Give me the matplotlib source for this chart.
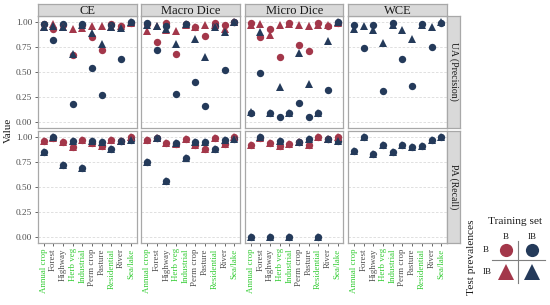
import numpy as np
import matplotlib
matplotlib.use("Agg")
import matplotlib.pyplot as plt

plt.rcParams['font.family'] = ['Liberation Serif', 'DejaVu Serif']

categories = ["Annual crop", "Forest", "Highway", "Herb veg", "Industrial",
              "Perm crop", "Pasture", "Residential", "River", "Sea/lake"]
green_cats = ["Annual crop", "Herb veg", "Industrial", "Residential", "Sea/lake"]
losses = ["CE", "Macro Dice", "Micro Dice", "WCE"]
metrics = ["UA (Precision)", "PA (Recall)"]
nan = np.nan

# UA (Precision): keys = (train set, test prevalence)
ua_ce_BB = [0.98, 0.93, 0.97, 0.67, 0.97, 0.85, 0.72, 0.98, 0.96, 0.99]
ua_ce_IBB = [0.98, 0.82, 0.98, 0.18, 0.98, 0.54, 0.27, 0.97, 0.63, 1.00]
ua_ce_BIB = [0.95, 0.98, 0.95, 0.93, 0.94, 0.96, 0.96, 0.95, 0.96, 0.99]
ua_ce_IBIB = [0.95, 0.96, 0.95, 0.68, 0.97, 0.89, 0.78, 0.95, 0.94, 1.00]

ua_mac_BB = [0.98, 0.80, 0.99, 0.68, 0.98, 0.95, 0.86, 0.99, 0.97, 1.00]
ua_mac_IBB = [0.99, 0.72, 0.96, 0.28, 0.98, 0.40, 0.16, 0.96, 0.52, 1.00]
ua_mac_BIB = [0.91, 0.96, 0.92, 0.91, 0.97, 0.95, 0.97, 0.97, 0.93, 1.00]
ua_mac_IBIB = [0.97, 0.96, 0.93, 0.78, 0.98, 0.83, 0.65, 0.95, 0.90, 1.00]

ua_mic_BB = [0.99, 0.85, 0.93, 0.65, 0.99, 0.77, 0.71, 0.99, 0.96, 0.99]
ua_mic_IBB = [0.09, 0.49, 0.09, 0.05, 0.09, 0.19, 0.05, 0.09, 0.32, 1.00]
ua_mic_BIB = [0.97, 0.98, 0.87, 0.97, 0.98, 0.97, 0.96, 0.97, 0.97, 0.99]
ua_mic_IBIB = [0.10, 0.90, 0.09, 0.35, 0.09, 0.69, 0.38, 0.09, 0.81, 1.00]

ua_wce_BB = [nan] * 10
ua_wce_IBB = [0.97, 0.74, 0.97, 0.31, 0.99, 0.63, 0.36, 0.98, 0.75, 0.99]
ua_wce_BIB = [nan] * 10
ua_wce_IBIB = [0.93, 0.96, 0.92, 0.79, 0.97, 0.92, 0.83, 0.97, 0.95, 1.00]

# PA (Recall): same for both test prevalences
pa_ce_B = [0.96, 0.99, 0.95, 0.90, 0.97, 0.94, 0.91, 0.97, 0.96, 1.00]
pa_ce_IB = [0.85, 1.00, 0.72, 0.96, 0.69, 0.96, 0.95, 0.88, 0.96, 0.97]
pa_mac_B = [0.97, 0.99, 0.94, 0.93, 0.98, 0.92, 0.88, 0.99, 0.93, 1.00]
pa_mac_IB = [0.75, 0.99, 0.56, 0.94, 0.79, 0.95, 0.95, 0.88, 0.97, 0.98]
pa_mic_B = [0.92, 0.99, 0.94, 0.91, 0.93, 0.95, 0.92, 1.00, 0.98, 1.00]
pa_mic_IB = [0.00, 1.00, 0.00, 0.96, 0.00, 0.95, 0.98, 0.00, 0.98, 0.96]
pa_wce_B = [nan] * 10
pa_wce_IB = [0.86, 1.00, 0.83, 0.92, 0.85, 0.92, 0.90, 0.91, 0.97, 1.00]

ua = {
    "CE": (ua_ce_BB, ua_ce_IBB, ua_ce_BIB, ua_ce_IBIB),
    "Macro Dice": (ua_mac_BB, ua_mac_IBB, ua_mac_BIB, ua_mac_IBIB),
    "Micro Dice": (ua_mic_BB, ua_mic_IBB, ua_mic_BIB, ua_mic_IBIB),
    "WCE": (ua_wce_BB, ua_wce_IBB, ua_wce_BIB, ua_wce_IBIB),
}
pa = {
    "CE": (pa_ce_B, pa_ce_IB, pa_ce_B, pa_ce_IB),
    "Macro Dice": (pa_mac_B, pa_mac_IB, pa_mac_B, pa_mac_IB),
    "Micro Dice": (pa_mic_B, pa_mic_IB, pa_mic_B, pa_mic_IB),
    "WCE": (pa_wce_B, pa_wce_IB, pa_wce_B, pa_wce_IB),
}
data = [ua, pa]

RED = '#A3374A'
BLUE = '#243A5A'
GREEN = '#33CC33'
GREYTXT = '#4D4D4D'
BORDER = '#A8A8A8'
STRIP = '#D9D9D9'

W, H = 550, 305
fig = plt.figure(figsize=(W / 100, H / 100), dpi=100)


def rect(x0, x1, y0, y1):
    return [x0 / W, 1 - y1 / H, (x1 - x0) / W, (y1 - y0) / H]


cols = [(37.7, 136.7), (141.3, 240.0), (245.0, 343.3), (348.3, 447.0)]
rows = [(16.0, 127.7), (131.0, 242.7)]
x = np.arange(len(categories))

styles = [  # (index, color, marker)
    (0, RED, 'o'), (1, BLUE, 'o'), (2, RED, '^'), (3, BLUE, '^')
]

for r, (y0, y1) in enumerate(rows):
    for c, (x0, x1) in enumerate(cols):
        ax = fig.add_axes(rect(x0, x1, y0, y1))
        ax.set_facecolor('white')
        series = data[r][losses[c]]
        for idx, col, mk in styles:
            ms = 5.3 if mk == 'o' else 5.9
            ax.plot(x, series[idx], linestyle='none', marker=mk, color=col,
                    markersize=ms, markeredgewidth=0, zorder=3)
        ax.set_xlim(-0.6, len(categories) - 0.4)
        ax.set_ylim(-0.055, 1.06)
        ax.set_yticks([0, 0.25, 0.5, 0.75, 1.0])
        ax.yaxis.grid(True, color='#DADADA', linestyle=(0, (3, 2)), linewidth=0.6)
        ax.xaxis.grid(False)
        ax.set_axisbelow(True)
        for s in ax.spines.values():
            s.set_color(BORDER)
            s.set_linewidth(0.9)
        ax.tick_params(axis='both', length=2.5, width=0.6, color=GREYTXT,
                       labelsize=6.7, labelcolor=GREYTXT, pad=1.5)
        ax.set_xticks(x)
        if r == len(rows) - 1:
            ax.set_xticklabels(categories, rotation=90, fontsize=6.4)
            for lab, cat in zip(ax.get_xticklabels(), categories):
                lab.set_color(GREEN if cat in green_cats else GREYTXT)
        else:
            ax.tick_params(axis='x', length=0)
            ax.set_xticklabels([])
        if c == 0:
            ax.set_yticklabels(["0.00", "0.25", "0.50", "0.75", "1.00"])
        else:
            ax.tick_params(axis='y', length=0)
            ax.set_yticklabels([])
        # top strips
        if r == 0:
            sax = fig.add_axes(rect(x0, x1, 4.3, 16.0))
            sax.set_facecolor(STRIP)
            sax.set_xticks([]); sax.set_yticks([])
            for s in sax.spines.values():
                s.set_color(BORDER); s.set_linewidth(0.9)
            sax.text(0.5, 0.45, losses[c], ha='center', va='center',
                     fontsize=9, color='#1A1A1A', transform=sax.transAxes)
        if c == len(cols) - 1:
            sax = fig.add_axes(rect(447.0, 460.0, y0, y1))
            sax.set_facecolor(STRIP)
            sax.set_xticks([]); sax.set_yticks([])
            for s in sax.spines.values():
                s.set_color(BORDER); s.set_linewidth(0.9)
            sax.text(0.5, 0.5, metrics[r], ha='center', va='center', rotation=-90,
                     fontsize=7.0, color='#1A1A1A', transform=sax.transAxes)

fig.text(8 / W, 1 - 130 / H, "Value", rotation=90, ha='center', va='center',
         fontsize=8, color='#1A1A1A')

# Legend
lax = fig.add_axes([0, 0, 1, 1], facecolor='none')
lax.set_xlim(0, W)
lax.set_ylim(H, 0)
lax.axis('off')
lax.text(515.5, 222, "Training set", ha='center', va='center', fontsize=8.2, color='#1A1A1A')
lax.text(505.7, 237, "B", ha='center', va='center', fontsize=6.5, color='#1A1A1A')
lax.text(531.7, 237, "IB", ha='center', va='center', fontsize=6.5, color='#1A1A1A')
lax.text(485.5, 250, "B", ha='center', va='center', fontsize=6.5, color='#1A1A1A')
lax.text(486.7, 271.5, "IB", ha='center', va='center', fontsize=6.5, color='#1A1A1A')
lax.text(472, 257, "Test prevalences", rotation=90, ha='center', va='center',
         fontsize=8.2, color='#1A1A1A')
lax.plot([517.5, 517.5], [241, 283], color='#7F7F7F', linewidth=0.8)
lax.plot([492, 545], [259.5, 259.5], color='#7F7F7F', linewidth=0.8)
lax.plot([505.7], [250], marker='o', color=RED, markersize=9.5, markeredgewidth=0)
lax.plot([531.7], [250], marker='o', color=BLUE, markersize=9.5, markeredgewidth=0)
lax.plot([505.7], [271.5], marker='^', color=RED, markersize=11, markeredgewidth=0)
lax.plot([531.7], [271.5], marker='^', color=BLUE, markersize=11, markeredgewidth=0)

fig.savefig("out.png", dpi=100)
